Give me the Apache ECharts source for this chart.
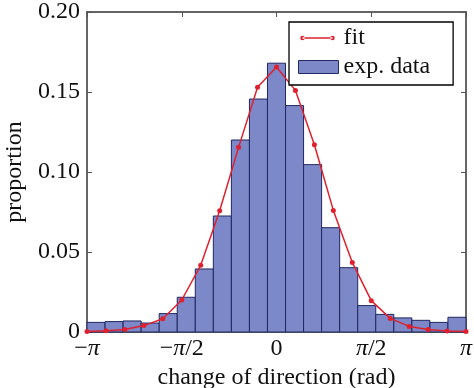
<!DOCTYPE html>
<html>
<head>
<meta charset="utf-8">
<script src="https://cdn.jsdelivr.net/npm/echarts@6/dist/echarts.min.js"></script>
<style>html,body{margin:0;padding:0;background:#fff}#c{width:474px;height:388px}</style>
</head>
<body>
<div id="c"></div>
<script>
// Histogram of change of direction, 21 bins from -pi to pi (x in units of pi)
var binCount = 21;
var expData = [0.0060, 0.0065, 0.0069, 0.0056, 0.0115, 0.0217, 0.0394, 0.0725, 0.1200, 0.1456,
               0.1680, 0.1415, 0.1046, 0.0652, 0.0402, 0.0165, 0.0110, 0.0088, 0.0073, 0.0060, 0.0092];
// Fit evaluated at 21 points from -pi to pi
var fitData = [0.0003, 0.0008, 0.0015, 0.0040, 0.0083, 0.0200, 0.0417, 0.0758, 0.1154, 0.1530,
               0.1656, 0.1510, 0.1170, 0.0760, 0.0435, 0.0196, 0.0085, 0.0035, 0.0015, 0.0006, 0.0003];
var xTickLabels = ['{s|−}{p|π}', '{s|−}{p|π}{s|/2}', '{s|0}', '{p|π}{s|/2}', '{p|π}'];
var yTickLabels = ['0', '0.05', '0.10', '0.15', '0.20'];

var FONT = 'Liberation Serif';
var barRows = expData.map(function (v, i) {
  var w = 2 / binCount;
  return [-1 + i * w, -1 + (i + 1) * w, v];
});
var fitRows = fitData.map(function (v, k) {
  return [-1 + k * 2 / (fitData.length - 1), v];
});

var chart = echarts.init(document.getElementById('c'), null, {renderer: 'canvas'});
var rich = {
  s: {fontFamily: FONT, fontSize: 24, color: '#111'},
  p: {fontFamily: FONT, fontSize: 24, fontStyle: 'italic', color: '#111'}
};
var fitIcon = 'path://M0,0h0.01v0.01z M40,13h-0.01v-0.01z M4,5.8h30v1.4h-30z ' +
  'M1.8,6.5a2.2,2.2 0 1,0 4.4,0a2.2,2.2 0 1,0 -4.4,0z M31.8,6.5a2.2,2.2 0 1,0 4.4,0a2.2,2.2 0 1,0 -4.4,0z';

chart.setOption({
  animation: false,
  backgroundColor: '#fff',
  grid: {left: 87, right: 8, top: 12, bottom: 56, containLabel: false, outerBoundsMode: 'none'},
  legend: {
    left: 289, top: 22,
    orient: 'vertical',
    itemWidth: 40, itemHeight: 13, itemGap: 5, itemTextGap: 9,
    padding: [4, 23, 6, 9],
    borderColor: '#000', borderWidth: 1.3,
    backgroundColor: '#fff',
    textStyle: {fontFamily: FONT, fontSize: 24, color: '#111', lineHeight: 24},
    data: [
      {name: 'fit', icon: fitIcon, itemStyle: {color: '#e0202e', borderWidth: 0}},
      {name: 'exp. data', icon: 'rect', itemStyle: {color: '#7d88c8', borderColor: '#232b66', borderWidth: 1}}
    ]
  },
  xAxis: [{
    type: 'value', min: -1, max: 1, interval: 0.5,
    name: 'change of direction (rad)', nameLocation: 'middle', nameGap: 18,
    nameTextStyle: {fontFamily: FONT, fontSize: 24, color: '#111'},
    axisLine: {onZero: false, lineStyle: {color: '#333', width: 1.5}},
    axisTick: {inside: true, length: 5, lineStyle: {color: '#555', width: 1}},
    axisLabel: {margin: 5, rich: rich, formatter: function (v) {
      return xTickLabels[Math.round((v + 1) * 2)];
    }},
    splitLine: {show: false}
  }, {
    type: 'value', min: -1, max: 1, interval: 0.5, position: 'top',
    axisLine: {onZero: false, lineStyle: {color: '#333', width: 1.5}},
    axisTick: {inside: true, length: 5, lineStyle: {color: '#555', width: 1}},
    axisLabel: {show: false}, splitLine: {show: false}
  }],
  yAxis: [{
    type: 'value', min: 0, max: 0.2, interval: 0.05,
    name: 'proportion', nameLocation: 'middle', nameGap: 60,
    nameTextStyle: {fontFamily: FONT, fontSize: 24, color: '#111'},
    axisLine: {show: true, onZero: false, lineStyle: {color: '#333', width: 1.5}},
    axisTick: {show: true, inside: true, length: 5, lineStyle: {color: '#555', width: 1}},
    axisLabel: {margin: 7, fontFamily: FONT, fontSize: 24, color: '#111', formatter: function (v) {
      return yTickLabels[Math.round(v / 0.05)];
    }},
    splitLine: {show: false}
  }, {
    type: 'value', min: 0, max: 0.2, interval: 0.05, position: 'right',
    axisLine: {show: true, onZero: false, lineStyle: {color: '#333', width: 1.5}},
    axisTick: {show: true, inside: true, length: 5, lineStyle: {color: '#555', width: 1}},
    axisLabel: {show: false}, splitLine: {show: false}
  }],
  series: [{
    name: 'exp. data',
    type: 'custom',
    xAxisIndex: 0, yAxisIndex: 0,
    data: barRows,
    encode: {x: [0, 1], y: 2},
    itemStyle: {color: '#7d88c8'},
    renderItem: function (params, api) {
      var p0 = api.coord([api.value(0), 0]);
      var p1 = api.coord([api.value(1), api.value(2)]);
      return {
        type: 'rect',
        shape: {x: p0[0], y: p1[1], width: p1[0] - p0[0], height: p0[1] - p1[1]},
        style: {fill: '#7d88c8', stroke: '#1f2760', lineWidth: 1}
      };
    },
    z: 2
  }, {
    name: 'fit',
    type: 'line',
    xAxisIndex: 0, yAxisIndex: 0,
    data: fitRows,
    symbol: 'circle', symbolSize: 5, showSymbol: true,
    lineStyle: {color: '#e0202e', width: 1.5},
    itemStyle: {color: '#e0202e'},
    z: 3
  }]
});
</script>
</body>
</html>
